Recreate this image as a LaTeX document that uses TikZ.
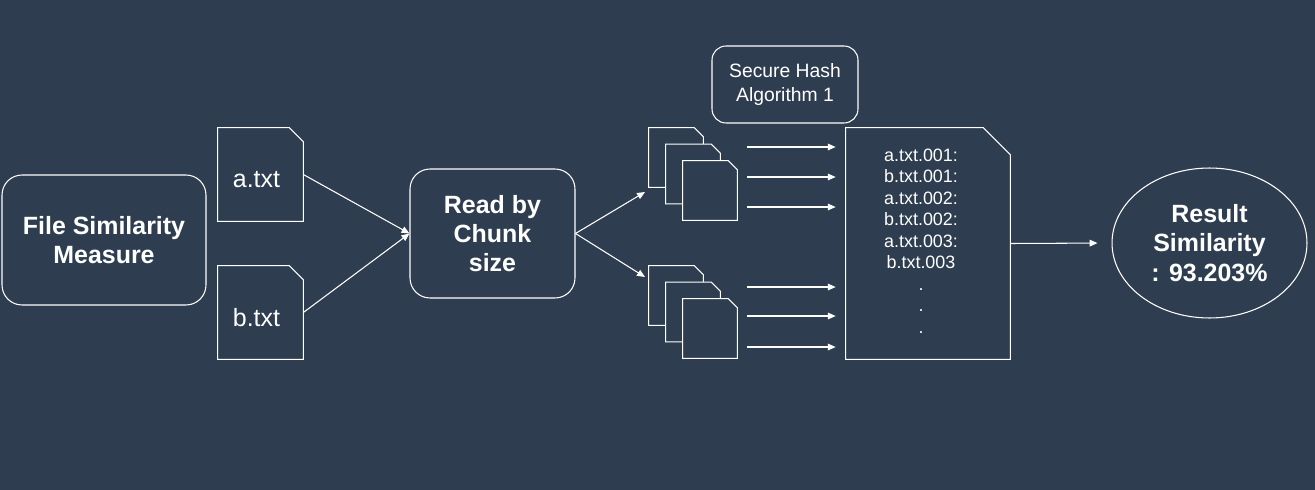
\documentclass[tikz,border=0pt]{standalone}
\usepackage{fontspec}
\setmainfont{Liberation Sans}
\usetikzlibrary{arrows.meta, positioning, shapes.geometric, calc}
\definecolor{bgcol}{RGB}{46,62,80}
\tikzset{
    box/.style={
        draw=white,
        line width=0.6pt,
        rounded corners=0.4cm,
        align=center,
        text=white,
        font=\fontsize{14.2}{16.7}\selectfont\bfseries
    },
    hashbox/.style={
        draw=white,
        line width=0.6pt,
        rounded corners=0.28cm,
        minimum width=2.92cm,
        minimum height=1.54cm,
        align=center,
        text=white,
        font=\fontsize{11}{13.6}\selectfont
    },
    page/.style={
        inner sep=0pt,
        align=center,
        text=white,
        font=\fontsize{14.2}{16.7}\selectfont
    },
    chunkpage/.style={page, minimum width=1.08cm, minimum height=1.18cm},
    docline/.style={draw=white, line width=0.6pt, fill=bgcol},
    line/.style={-{Triangle[length=4.5pt,width=3.8pt]}, white, line width=0.6pt},
    outcome/.style={
        ellipse,
        draw=white,
        line width=0.6pt,
        minimum width=3.9cm,
        minimum height=3cm,
        align=center,
        text=white,
        font=\fontsize{14.2}{16.7}\selectfont\bfseries
    }
}
% page outline with a folded corner
\newcommand{\docshape}[2]{%
  \draw[docline] (#1.south west) -- (#1.north west) -- ([xshift=-#2]#1.north east)
    -- ([yshift=-#2]#1.north east) -- (#1.south east) -- cycle;}

\begin{document}
\begin{tikzpicture}[x=0.02cm,y=-0.02cm]
\fill[bgcol] (0,0) rectangle (1315,490);
\useasboundingbox (0,0) rectangle (1315,490);

% Input
\node[box, minimum width=4.08cm, minimum height=2.6cm] (measure) at (104,240) {File Similarity\\Measure};

\node[page, minimum width=1.7cm, minimum height=1.86cm] (afile) at (260.5,174.5) {};
\docshape{afile}{0.28cm}
\node[page] at ([xshift=-0.08cm,yshift=-0.1cm]afile.center) {a.txt};
\node[page, minimum width=1.7cm, minimum height=1.86cm] (bfile) at (260.5,312.5) {};
\docshape{bfile}{0.28cm}
\node[page] at ([xshift=-0.08cm,yshift=-0.1cm]bfile.center) {b.txt};

% Chunking
\node[box, minimum width=3.3cm, minimum height=2.58cm] (chunk) at (492.5,233.5) {Read by\\Chunk\\size};
\draw[line] (afile.east) -- (chunk.west);
\draw[line] (bfile.east) -- (chunk.west);

\foreach \s/\y in {top/157.5, bot/295.5}{
    \node[chunkpage] (\s1) at (676,\y) {};
    \docshape{\s1}{0.18cm}
    \node[chunkpage] (\s2) at (693,\y+16.5) {};
    \docshape{\s2}{0.18cm}
    \node[chunkpage] (\s3) at (710,\y+33) {};
    \docshape{\s3}{0.18cm}
}
\coordinate (topin) at (645,192);
\coordinate (botin) at (645,277);
\draw[line] (chunk.east) -- (topin);
\draw[line] (chunk.east) -- (botin);

% Hashing
\node[hashbox] (sha) at (785,84.5) {Secure Hash\\Algorithm 1};

\node[page, minimum width=3.28cm, minimum height=4.62cm] (hashes) at (928,243.5) {};
\docshape{hashes}{0.54cm}
\node[page, font=\fontsize{10.2}{12.2}\selectfont] at ([xshift=-0.14cm,yshift=0.05cm]hashes.center) {a.txt.001:\\b.txt.001:\\a.txt.002:\\b.txt.002:\\a.txt.003:\\b.txt.003\\.\\.\\.};

\foreach \i/\y in {1/147, 2/177, 3/207, 4/287, 5/316, 6/347}{
    \coordinate (h\i) at (747,\y);
    \draw[line, shorten >=0.2cm] (h\i) -- (hashes.west |- h\i);
}

% Result
\node[outcome] (result) at (1209.5,243) {Result\\Similarity\\: 93.203\%};
\draw[line, shorten >=0.28cm] (hashes.east) -- (result.west);
\end{tikzpicture}
\end{document}
